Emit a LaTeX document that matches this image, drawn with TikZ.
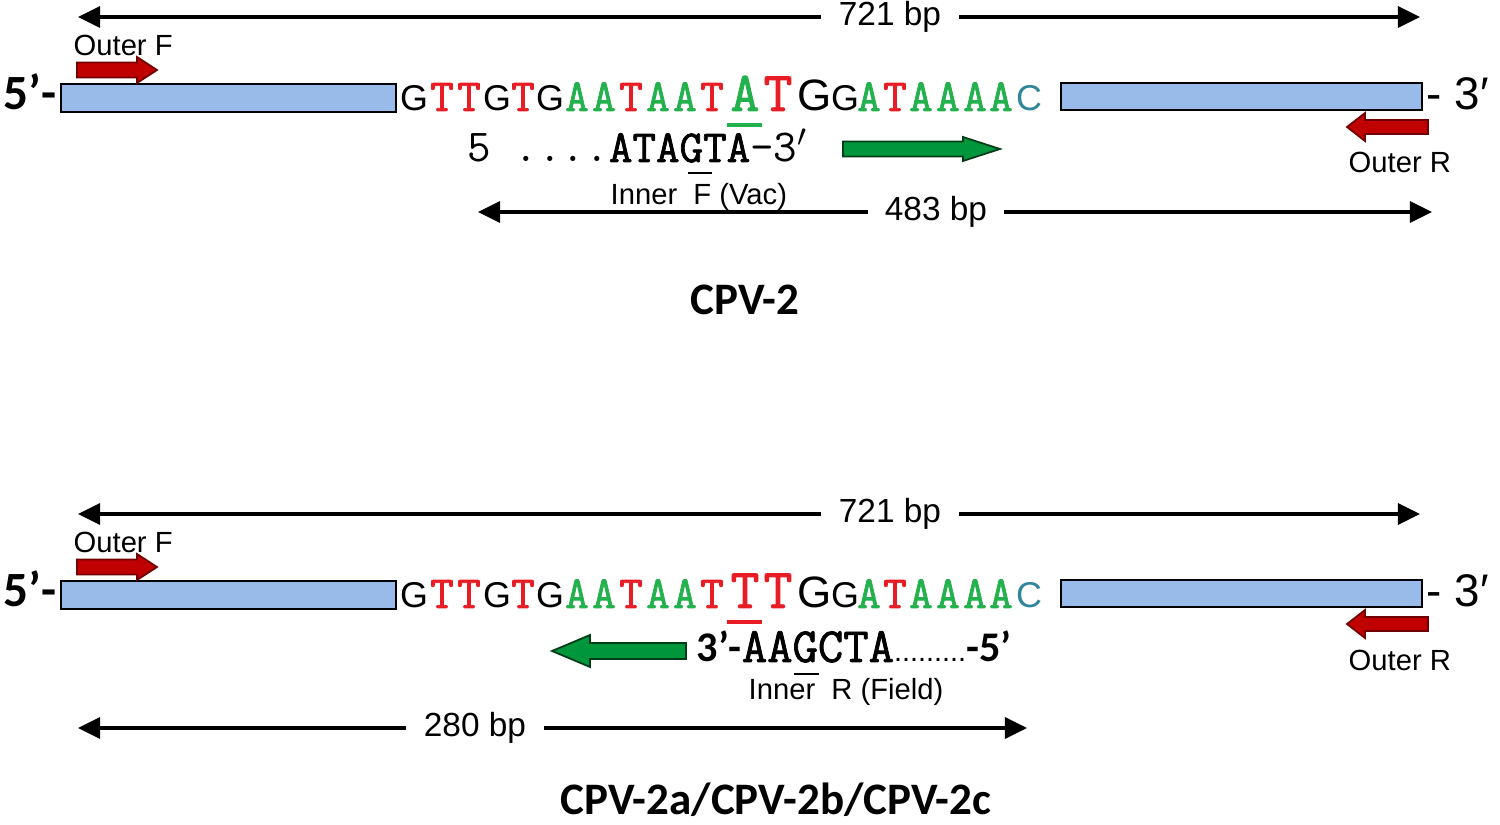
\documentclass[tikz,border=0pt]{standalone}
\usepackage{fontspec}
\usepackage{tikz}
\usetikzlibrary{arrows.meta}
\newfontfamily\seqfont[AutoFakeBold=1.6]{Latin Modern Mono}
\newfontfamily\labfont{Liberation Sans}
\newfontfamily\calfont{Carlito}
\definecolor{seqred}{RGB}{232,28,36}
\definecolor{seqgreen}{RGB}{34,177,76}
\definecolor{seqteal}{RGB}{49,133,155}
\definecolor{boxblue}{RGB}{153,187,234}
\definecolor{primred}{RGB}{192,0,0}
\definecolor{primgreen}{RGB}{0,150,60}
\newcommand*{\fatarrow}[7]{%
 \draw[#1] (#2,{#4-(#6)}) -- ({#3-(#5)},{#4-(#6)}) -- ({#3-(#5)},{#4-(#7)}) -- (#3,#4)
  -- ({#3-(#5)},{#4+(#7)}) -- ({#3-(#5)},{#4+(#6)}) -- (#2,{#4+(#6)}) -- cycle;}
\tikzset{
 dim/.style={line width=0.9pt, -{Triangle[length=6.3pt,width=6pt]}},
 dimlabel/.style={font=\labfont\fontsize{9.5}{11}\selectfont, inner xsep=5pt, inner ysep=0pt},
 genebox/.style={draw, line width=0.7pt, fill=boxblue},
 primtext/.style={font=\labfont\fontsize{8.3}{10}\selectfont, anchor=base west, inner sep=0pt},
 primarrow/.style={draw=primred!60!black, line width=0.5pt, fill=primred},
 innerarrow/.style={draw=primgreen!40!black, line width=0.5pt, fill=primgreen},
 seqn/.style={font=\seqfont\bfseries\fontsize{13}{15}\selectfont, anchor=base, inner sep=0pt},
 seqb/.style={font=\seqfont\bfseries\fontsize{16}{18}\selectfont, anchor=base, inner sep=0pt},
 seqg/.style={font=\labfont\fontsize{10.2}{12}\selectfont, anchor=base, inner sep=0pt},
 seqh/.style={font=\labfont\fontsize{12.5}{15}\selectfont, anchor=base, inner sep=0pt},
 title/.style={font=\calfont\bfseries\fontsize{12.8}{15}\selectfont}
}

\begin{document}
\begin{tikzpicture}[x=0.01cm, y=-0.01cm]
 \useasboundingbox (0,0) rectangle (1500,825);
 \foreach \dy/\p/\m/\mc in {0/t/A/seqgreen, 497/b/T/seqred} {
  \node[dimlabel] (\p721) at (890,17+\dy) {721 bp};
  \coordinate (\p721l) at (78,17+\dy);
  \coordinate (\p721r) at (1420,17+\dy);
  \draw[dim] (\p721) -- (\p721l);
  \draw[dim] (\p721) -- (\p721r);
  \draw[genebox] (61,84+\dy) rectangle (396,112+\dy);
  \draw[genebox] (1061,83+\dy) rectangle (1422,110+\dy);
  \node[font=\calfont\bfseries\fontsize{14}{16}\selectfont, anchor=base east, inner sep=0pt] (\p5end) at (57,110+\dy) {5’-};
  \node[font=\labfont\fontsize{13}{15}\selectfont, anchor=base west, inner sep=0pt] (\p3end) at (1426,110+\dy) {- 3′};
  \node[primtext] (\p outF) at (73,56+\dy) {Outer F};
  \fatarrow{primarrow}{77}{157}{70+\dy}{20}{7.5}{13}
  \node[primtext] (\p outR) at (1348,173+\dy) {Outer R};
  \fatarrow{primarrow}{1428}{1347}{127+\dy}{-18}{7}{14}
  \foreach \l/\c/\x/\s [count=\i] in {G/black/414/g, T/seqred/442/n, T/seqred/469/n, G/black/497/g,
    T/seqred/523/n, G/black/550/g, A/seqgreen/577/n, A/seqgreen/604/n, T/seqred/631/n,
    A/seqgreen/658/n, A/seqgreen/685/n, T/seqred/712/n, \m/\mc/745/b, T/seqred/778/b,
    G/black/815/h, G/black/845/g, A/seqgreen/869/n, T/seqred/895/n, A/seqgreen/921/n,
    A/seqgreen/948/n, A/seqgreen/975/n, A/seqgreen/1001/n, C/seqteal/1029/g}
   \node[seq\s, text=\c] (\p s\i) at (\x,111+\dy) {\l};
 }
 % CPV-2
 \draw[seqgreen, line width=1.2pt] (727,125) -- (762,125);
 \node[font=\seqfont\fontsize{13}{15}\selectfont, anchor=base west, inner sep=0pt] (fwd) at (467,162) {5 ....{\bfseries ATAGTA}-3$'$};
 \draw[line width=0.7pt] (688,173) -- (712,173);
 \fatarrow{innerarrow}{843}{1000}{149}{37}{7.5}{12}
 \node[primtext] (innF) at (610,205) {Inner\ \ F (Vac)};
 \node[dimlabel, inner xsep=4.5pt] (len483) at (936,212) {483 bp};
 \coordinate (len483l) at (478,212);
 \coordinate (len483r) at (1432,212);
 \draw[dim] (len483) -- (len483l);
 \draw[dim] (len483) -- (len483r);
 \node[title] (cpv2) at (745,300) {CPV-2};
 % CPV-2a/2b/2c
 \draw[seqred, line width=1.2pt] (727,622) -- (762,622);
 \node[anchor=base west, inner sep=0pt] (rev) at (696,662) {{\calfont\bfseries\fontsize{12}{14}\selectfont 3’-}{\seqfont\bfseries\fontsize{14}{16}\selectfont AAGCTA}{\labfont\fontsize{8.2}{10}\selectfont .........}{\calfont\bfseries\fontsize{12}{14}\selectfont -5’}};
 \draw[line width=0.7pt] (794,674) -- (819,674);
 \fatarrow{innerarrow}{686}{552}{651}{-38}{8}{16}
 \node[primtext] (innR) at (748,699) {Inner\ \ R (Field)};
 \node[dimlabel, inner xsep=5pt] (len280) at (475,728) {280 bp};
 \coordinate (len280l) at (78,728);
 \coordinate (len280r) at (1027,728);
 \draw[dim] (len280) -- (len280l);
 \draw[dim] (len280) -- (len280r);
 \node[title] (cpv2abc) at (776,800) {CPV-2a/CPV-2b/CPV-2c};
\end{tikzpicture}
\end{document}
